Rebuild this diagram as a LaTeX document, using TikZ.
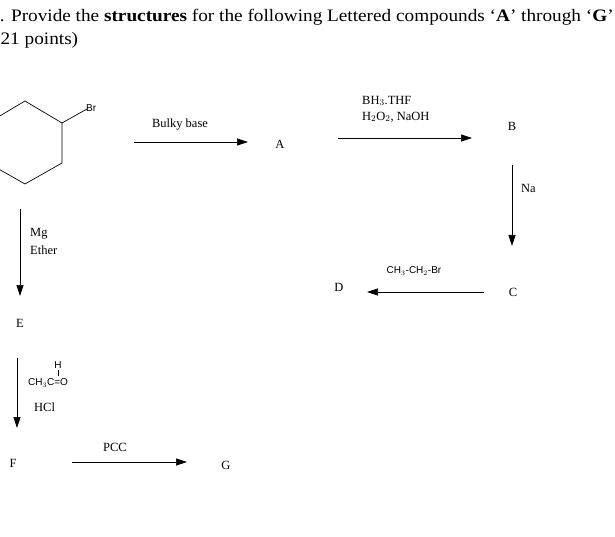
\documentclass[tikz,border=0pt]{standalone}
\usepackage{fontspec}
\setmainfont{Liberation Serif}
\setsansfont{Liberation Sans}
\usetikzlibrary{arrows.meta}
\begin{document}
\begin{tikzpicture}[x=1pt,y=-1pt,
  rx/.style={-{Triangle[length=11pt,width=7pt]},line width=0.7pt},
  lbl/.style={font=\fontsize{12.5}{13}\selectfont,inner sep=0pt},
  sf/.style={font=\sffamily\fontsize{10}{10}\selectfont,inner sep=0pt}]
\useasboundingbox (0,0) rectangle (615,537);
\clip (0,0) rectangle (615,537);
\node[anchor=west,inner sep=0pt,font=\fontsize{17.5}{18}\selectfont] (title) at (-10,17) {\scalebox{1.1}[1]{1. Provide the \textbf{structures} for the following Lettered compounds ‘\textbf{A}’ through ‘\textbf{G}’}};
\node[anchor=west,inner sep=0pt,font=\fontsize{17.5}{18}\selectfont] (pts) at (-6,40) {\scalebox{1.1}[1]{(21 points)}};
% cyclohexane
\draw[line width=0.7pt] (25,101) -- (62,123) -- (62,163) -- (25,184) -- (-12,163) -- (-12,123) -- cycle;
\coordinate (c1) at (62,123);
\node[sf,anchor=south west] (br) at (86,112) {Br};
\draw[line width=0.7pt] (c1) -- (87,109);
% nodes
\node[lbl] (A) at (280,144) {A};
\node[lbl] (B) at (512,126) {B};
\node[lbl] (C) at (513,292) {C};
\node[lbl] (D) at (339,287) {D};
\node[lbl] (E) at (20,323) {E};
\node[lbl] (F) at (13,463) {F};
\node[lbl] (G) at (226,465) {G};
% arrows
\coordinate (a1s) at (134,142); \coordinate (a1e) at (248,142);
\draw[rx] (a1s) -- (a1e);
\node[lbl] (bb) at (180,125) {Bulky base};
\coordinate (a2s) at (338,138); \coordinate (a2e) at (472,138);
\draw[rx] (a2s) -- (a2e);
\node[lbl,anchor=west] (bh) at (362,101) {BH$_3$.THF};
\node[lbl,anchor=west] (ho) at (362,117) {H$_2$O$_2$, NaOH};
\coordinate (a3s) at (512,165); \coordinate (a3e) at (512,246);
\draw[rx] (a3s) -- (a3e);
\node[lbl,anchor=west] (na) at (521,188) {Na};
\coordinate (a4s) at (484,292); \coordinate (a4e) at (367,292);
\draw[rx] (a4s) -- (a4e);
\node[sf] (eb) at (414,271) {CH$_3$-CH$_2$-Br};
\coordinate (a5s) at (20,209); \coordinate (a5e) at (20,296);
\draw[rx] (a5s) -- (a5e);
\node[lbl,anchor=west] (mg) at (30,234) {Mg};
\node[lbl,anchor=west] (et) at (30,250) {Ether};
\coordinate (a6s) at (17,358); \coordinate (a6e) at (17,428);
\draw[rx] (a6s) -- (a6e);
\node[sf] (h) at (58,365) {H};
\draw[line width=0.6pt] (58,370) -- (58,376);
\node[sf,anchor=west] (ald) at (28,383) {CH$_3$C=O};
\node[lbl,anchor=west] (hcl) at (34,407) {HCl};
\coordinate (a7s) at (72,462); \coordinate (a7e) at (187,462);
\draw[rx] (a7s) -- (a7e);
\node[lbl] (pcc) at (115,447) {PCC};
\end{tikzpicture}
\end{document}
